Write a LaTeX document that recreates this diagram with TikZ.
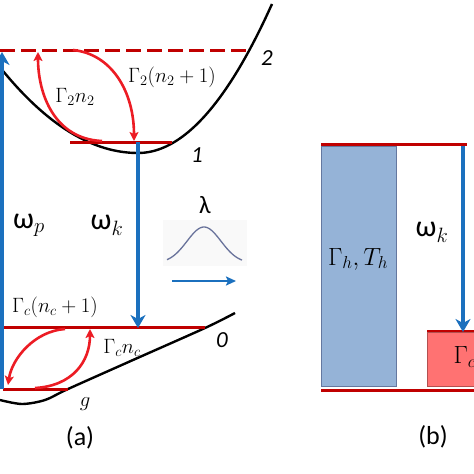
\documentclass[tikz,border=0pt]{standalone}
\usepackage{fontspec}
\newfontfamily\calfont{Carlito}
\usetikzlibrary{arrows.meta}

\definecolor{lvlred}{RGB}{192,0,0}
\definecolor{arcred}{RGB}{236,28,36}
\definecolor{phblue}{RGB}{27,112,190}
\definecolor{hotblue}{RGB}{149,179,215}
\definecolor{hotedge}{RGB}{100,120,160}
\definecolor{coldred}{RGB}{255,114,114}
\definecolor{gaussgray}{RGB}{105,115,155}

\tikzset{
  pot/.style={draw=black, line width=2.4pt},
  level/.style={draw=lvlred, line width=3pt},
  photon/.style={draw=phblue, line width=4pt, -{Stealth[length=13pt,width=15pt,inset=4pt]}},
  rate/.style={draw=arcred, line width=2.6pt, -{Stealth[length=9pt,width=9pt,inset=2pt]}},
  ratelab/.style={font=\fontsize{21}{23}\selectfont},
  omlab/.style={font=\calfont\fontsize{30}{32}\selectfont},
  numlab/.style={font=\calfont\itshape\fontsize{23}{25}\selectfont},
  panlab/.style={font=\calfont\fontsize{26}{28}\selectfont},
  boxlab/.style={font=\fontsize{26}{28}\selectfont}
}

\begin{document}
\begin{tikzpicture}[x=1pt,y=-1pt]
  \useasboundingbox (0,0) rectangle (474,474);
  \clip (0,0) rectangle (474,474);

  %draw potential curves
  \draw[pot] plot[domain=0:138,smooth] (\x,{153-((\x-138)*0.0671)^2})
     -- plot[domain=138:272,smooth] (\x,{153-((\x-138)*0.0911)^2});
  \draw[pot] plot[smooth] coordinates {(0,400) (22,404) (45,400) (68,389) (133,360) (205,328) (235,313)};

  %draw levels of (a)
  \coordinate (l2a) at (0,50);   \coordinate (l2b) at (250,50);
  \coordinate (l1a) at (70,142); \coordinate (l1b) at (172,142);
  \coordinate (l0a) at (3,327);  \coordinate (l0b) at (205,327);
  \coordinate (lga) at (3,389);  \coordinate (lgb) at (68,389);
  \draw[level, dash pattern=on 15pt off 6pt] (l2a) -- (l2b);
  \draw[level] (l1a) -- (l1b);
  \draw[level] (l0a) -- (l0b);
  \draw[level] (lga) -- (lgb);

  %draw photon arrows
  \coordinate (pg) at (2,389);   \coordinate (p2) at (2,52);
  \coordinate (k1) at (138,142); \coordinate (k0) at (138,328);
  \draw[photon] (pg) -- (p2);
  \draw[photon] (k1) -- (k0);

  %draw rate arcs
  \coordinate (u1) at (102,141); \coordinate (u2) at (38,52);
  \coordinate (d2) at (73,50);   \coordinate (d1) at (134,141);
  \draw[rate] (u1) .. controls (55,139) and (38,95) .. (u2);
  \draw[rate] (d2) .. controls (112,54) and (134,92) .. (d1);
  \coordinate (c0) at (65,329);  \coordinate (cg) at (8,385);
  \coordinate (h0) at (35,388);  \coordinate (hg) at (90,329);
  \draw[rate] (c0) .. controls (35,331) and (12,358) .. (cg);
  \draw[rate] (h0) .. controls (72,386) and (90,362) .. (hg);

  %draw labels of (a)
  \node[ratelab] (g2n2) at (75,97) {$\Gamma_2 n_2$};
  \node[ratelab] (g2n21) at (172,77) {$\Gamma_2(n_2+1)$};
  \node[ratelab] (gcnc1) at (55,307) {$\Gamma_c(n_c+1)$};
  \node[ratelab] (gcnc) at (122,348) {$\Gamma_c n_c$};
  \node[omlab] (omp) at (29,225) {ω$_p$};
  \node[omlab] (omk) at (107,225) {ω$_k$};
  \node[numlab] (n2) at (267,58) {2};
  \node[numlab] (n1) at (197,155) {1};
  \node[numlab] (n0) at (222,340) {0};
  \node[font=\fontsize{22}{24}\selectfont] (ng) at (85,404) {$g$};
  \node[panlab] (pa) at (80,438) {(a)};

  %draw spectrum
  \fill[black!2.5] (163,220) rectangle (247,266);
  \node[font=\calfont\fontsize{25}{27}\selectfont] (lam) at (205,205) {λ};
  \draw[gaussgray, line width=1.3pt] plot[domain=167:242,samples=60,smooth] (\x,{263-36*exp(-((\x-204)/24)^2)});
  \coordinate (s0) at (172,281); \coordinate (s1) at (236,281);
  \draw[draw=phblue, line width=2.8pt, -{Stealth[length=10pt,width=9pt,inset=2pt]}] (s0) -- (s1);

  %draw panel (b)
  \draw[hotedge, fill=hotblue, line width=0.8pt] (321,146) rectangle (396,386);
  \draw[coldred!70!black, fill=coldred, line width=0.8pt] (427,332) rectangle (480,386);
  \coordinate (ra) at (427,331); \coordinate (rb) at (480,331);
  \draw[level, line width=2.4pt] (ra) -- (rb);
  \coordinate (ta) at (321,144); \coordinate (tb) at (467,144);
  \coordinate (ba) at (321,390); \coordinate (bb) at (480,390);
  \draw[level] (ta) -- (tb);
  \draw[level] (ba) -- (bb);
  \coordinate (w1) at (463,146); \coordinate (w0) at (463,332);
  \draw[photon] (w1) -- (w0);
  \node[boxlab] (hot) at (358,259) {$\Gamma_h,T_h$};
  \node[boxlab, anchor=west] (cold) at (450,357) {$\Gamma_c$};
  \node[omlab] (omkb) at (432,232) {ω$_k$};
  \node[panlab] (pb) at (433,437) {(b)};
\end{tikzpicture}
\end{document}
